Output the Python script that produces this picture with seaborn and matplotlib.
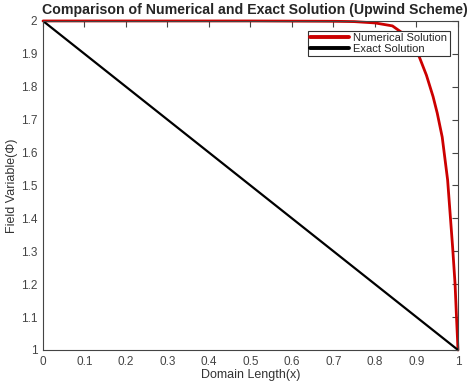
import matplotlib
matplotlib.use("Agg")
import matplotlib.pyplot as plt
import seaborn as sns
import pandas as pd

# Numerical solution
num_x = [0.0, 0.5, 0.7, 0.75, 0.8, 0.842, 0.87, 0.89, 0.907, 0.924, 0.94, 0.95,
         0.962, 0.975, 0.987, 0.993, 0.996, 0.999, 1.0]
num_y = [2.0, 2.0, 1.999, 1.998, 1.994, 1.985, 1.96, 1.93, 1.89, 1.835, 1.77, 1.72,
         1.647, 1.517, 1.314, 1.2, 1.112, 1.03, 1.0]
# Exact solution
ex_x = [0.0, 0.25, 0.5, 0.75, 1.0]
ex_y = [2.0, 1.75, 1.5, 1.25, 1.0]

x_ticks = [0, 0.1, 0.2, 0.3, 0.4, 0.5, 0.6, 0.7, 0.8, 0.9, 1]
x_ticklabels = ["0", "0.1", "0.2", "0.3", "0.4", "0.5", "0.6", "0.7", "0.8", "0.9", "1"]
y_ticks = [1, 1.1, 1.2, 1.3, 1.4, 1.5, 1.6, 1.7, 1.8, 1.9, 2]
y_ticklabels = ["1", "1.1", "1.2", "1.3", "1.4", "1.5", "1.6", "1.7", "1.8", "1.9", "2"]

sns.set_style("white")
plt.rcParams['font.family'] = ['Liberation Sans', 'DejaVu Sans']

df_num = pd.DataFrame({"x": num_x, "y": num_y})
df_ex = pd.DataFrame({"x": ex_x, "y": ex_y})

fig = plt.figure(figsize=(4.74, 3.88), dpi=100)
ax = fig.add_axes([0.0907, 0.098, 0.8755, 0.848])

sns.lineplot(data=df_num, x="x", y="y", ax=ax, color="#cc0000", linewidth=2.0,
             label="Numerical Solution", sort=False, estimator=None,
             solid_joinstyle="round", clip_on=False)
sns.lineplot(data=df_ex, x="x", y="y", ax=ax, color="black", linewidth=1.6,
             label="Exact Solution", sort=False, estimator=None)

ax.set_xlim(0, 1)
ax.set_ylim(1, 2)
ax.set_xticks(x_ticks)
ax.set_xticklabels(x_ticklabels)
ax.set_yticks(y_ticks)
ax.set_yticklabels(y_ticklabels)

ax.tick_params(direction="in", top=True, right=True, length=4, width=0.8,
               colors="#444444", labelsize=8.5, pad=4)
for s in ax.spines.values():
    s.set_color("#444444")
    s.set_linewidth(0.8)

ax.set_xlabel("Domain Length(x)", fontsize=9, color="#333333", labelpad=1)
ax.set_ylabel("Field Variable(\u03a6)", fontsize=9, color="#333333", labelpad=2)
ax.set_title("Comparison of Numerical and Exact Solution (Upwind Scheme)",
             fontsize=10.2, fontweight="bold", pad=5, x=0.51)

leg = ax.legend(loc="upper right", bbox_to_anchor=(0.98, 0.97), fontsize=8,
                frameon=True, fancybox=False, borderpad=0.2, labelspacing=0.05,
                handlelength=3.5, handletextpad=0.4, borderaxespad=0)
leg.get_frame().set_edgecolor("#333333")
leg.get_frame().set_linewidth(0.8)
leg.get_frame().set_alpha(1.0)
for line in leg.get_lines():
    line.set_linewidth(2.8)

fig.savefig("out.png", dpi=100)
